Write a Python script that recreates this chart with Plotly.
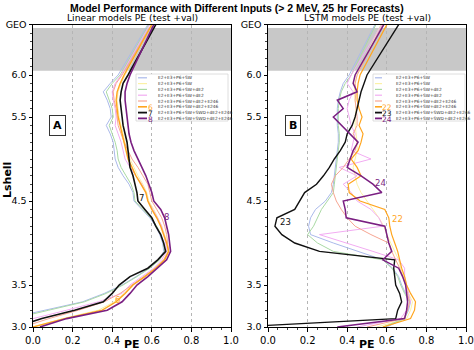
import plotly.graph_objects as go

# L-shell grid (last point is geosynchronous orbit, drawn at 6.6)
L_GRID = [3.0, 3.1, 3.2, 3.3, 3.4, 3.5, 3.6, 3.7, 3.8, 3.9,
          4.0, 4.1, 4.2, 4.3, 4.4, 4.5, 4.6, 4.7, 4.8, 4.9,
          5.0, 5.1, 5.2, 5.3, 5.4, 5.5, 5.6, 5.7, 5.8, 5.9,
          6.0, 6.6]

INPUT_SETS = [
    "E2+E3+P6+SW",
    "E2+E3+P6+SW",
    "E2+E3+P6+SW+dE2",
    "E2+E3+P6+SW+dE2",
    "E2+E3+P6+SW+dE2+E246",
    "E2+E3+P6+SW+dE2+E246",
    "E2+E3+P6+SW+SWD+dE2+E246",
    "E2+E3+P6+SW+SWD+dE2+E246",
]
LIN_IDS = ["", "", "", "", "", "6", "7", "8"]
LSTM_IDS = ["", "", "", "", "", "22", "23", "24"]

# ---- Linear models PE ----
lin_1 = [-0.35, -0.13, 0.06, 0.25, 0.36, 0.45, 0.52, 0.585, 0.635, 0.66,
         0.655, 0.64, 0.62, 0.59, 0.55, 0.51, 0.505, 0.485, 0.455, 0.43,
         0.415, 0.41, 0.405, 0.39, 0.37, 0.395, 0.39, 0.375, 0.355, 0.39,
         0.43, 0.58]
lin_2 = [0.0, 0.15, 0.33, 0.41, 0.46, 0.50, 0.56, 0.615, 0.66, 0.68,
         0.675, 0.665, 0.65, 0.63, 0.61, 0.585, 0.575, 0.555, 0.53, 0.51,
         0.49, 0.475, 0.465, 0.455, 0.445, 0.435, 0.43, 0.425, 0.43, 0.445,
         0.465, 0.60]
lin_3 = [-0.3, -0.1, 0.08, 0.26, 0.37, 0.455, 0.525, 0.59, 0.64, 0.665,
         0.66, 0.645, 0.625, 0.595, 0.555, 0.515, 0.51, 0.495, 0.47, 0.445,
         0.43, 0.425, 0.415, 0.40, 0.385, 0.405, 0.40, 0.385, 0.37, 0.40,
         0.44, 0.585]
lin_4 = [-0.12, 0.0, 0.17, 0.33, 0.45, 0.49, 0.55, 0.61, 0.65, 0.675,
         0.67, 0.66, 0.65, 0.63, 0.605, 0.58, 0.57, 0.55, 0.52, 0.49,
         0.465, 0.455, 0.445, 0.43, 0.415, 0.42, 0.415, 0.405, 0.40, 0.415,
         0.445, 0.59]
lin_5 = [-0.05, 0.08, 0.23, 0.36, 0.44, 0.50, 0.56, 0.62, 0.66, 0.685,
         0.68, 0.675, 0.665, 0.65, 0.625, 0.60, 0.59, 0.58, 0.555, 0.53,
         0.50, 0.48, 0.46, 0.445, 0.43, 0.425, 0.42, 0.41, 0.405, 0.42,
         0.45, 0.60]
lin_6 = [0.0, 0.16, 0.35, 0.42, 0.465, 0.505, 0.565, 0.62, 0.665, 0.685,
         0.675, 0.66, 0.645, 0.625, 0.60, 0.58, 0.57, 0.545, 0.52, 0.50,
         0.48, 0.47, 0.46, 0.45, 0.44, 0.43, 0.425, 0.42, 0.425, 0.44,
         0.46, 0.60]
lin_7 = [-0.09, 0.045, 0.21, 0.355, 0.40, 0.435, 0.49, 0.58, 0.63, 0.67,
         0.66, 0.645, 0.62, 0.60, 0.565, 0.53, 0.525, 0.515, 0.505, 0.49,
         0.485, 0.48, 0.475, 0.465, 0.455, 0.45, 0.445, 0.44, 0.445, 0.455,
         0.48, 0.62]
lin_8 = [0.035, 0.17, 0.375, 0.45, 0.49, 0.525, 0.58, 0.63, 0.675, 0.695,
         0.69, 0.685, 0.675, 0.665, 0.645, 0.61, 0.60, 0.585, 0.57, 0.55,
         0.53, 0.51, 0.495, 0.485, 0.48, 0.475, 0.47, 0.465, 0.465, 0.475,
         0.49, 0.61]

# ---- LSTM models PE ----
lstm_1 = [0.60, 0.69, 0.71, 0.72, 0.695, 0.675, 0.66, 0.63, 0.58, 0.45,
          0.33, 0.215, 0.205, 0.215, 0.24, 0.29, 0.32, 0.33, 0.335, 0.34,
          0.345, 0.35, 0.355, 0.355, 0.35, 0.35, 0.35, 0.355, 0.365, 0.38,
          0.41, 0.54]
lstm_2 = [0.55, 0.70, 0.72, 0.73, 0.71, 0.695, 0.685, 0.67, 0.66, 0.64,
          0.62, 0.60, 0.585, 0.56, 0.53, 0.50, 0.47, 0.45, 0.44, 0.43,
          0.44, 0.45, 0.45, 0.445, 0.44, 0.44, 0.445, 0.44, 0.435, 0.44,
          0.45, 0.57]
lstm_3 = [0.58, 0.69, 0.705, 0.715, 0.69, 0.67, 0.655, 0.625, 0.58, 0.33,
          0.25, 0.20, 0.23, 0.25, 0.27, 0.30, 0.33, 0.335, 0.34, 0.345,
          0.35, 0.355, 0.36, 0.36, 0.355, 0.355, 0.355, 0.36, 0.37, 0.39,
          0.42, 0.545]
lstm_4 = [0.45, 0.67, 0.70, 0.72, 0.71, 0.70, 0.69, 0.69, 0.66, 0.53,
          0.40, 0.26, 0.58, 0.56, 0.52, 0.45, 0.42, 0.38, 0.45, 0.36,
          0.52, 0.42, 0.43, 0.44, 0.42, 0.41, 0.40, 0.41, 0.43, 0.40,
          0.42, 0.575]
lstm_5 = [0.50, 0.685, 0.705, 0.715, 0.705, 0.695, 0.68, 0.665, 0.645, 0.625,
          0.61, 0.52, 0.44, 0.40, 0.37, 0.345, 0.33, 0.32, 0.34, 0.38,
          0.41, 0.44, 0.45, 0.43, 0.45, 0.45, 0.445, 0.44, 0.445, 0.44,
          0.45, 0.58]
lstm_6 = [0.58, 0.72, 0.74, 0.745, 0.72, 0.70, 0.69, 0.675, 0.665, 0.655,
          0.64, 0.625, 0.615, 0.61, 0.59, 0.465, 0.41, 0.405, 0.47, 0.45,
          0.42, 0.455, 0.47, 0.48, 0.46, 0.475, 0.46, 0.45, 0.45, 0.455,
          0.465, 0.60]
lstm_7 = [-0.16, 0.645, 0.655, 0.675, 0.665, 0.645, 0.64, 0.635, 0.64, 0.26,
          0.135, 0.07, 0.035, 0.045, 0.135, 0.16, 0.185, 0.245, 0.28, 0.31,
          0.335, 0.365, 0.39, 0.40, 0.425, 0.44, 0.45, 0.46, 0.47, 0.485,
          0.50, 0.66]
lstm_8 = [0.35, 0.69, 0.70, 0.705, 0.70, 0.695, 0.68, 0.66, 0.58, 0.625,
          0.61, 0.60, 0.59, 0.395, 0.39, 0.38, 0.575, 0.53, 0.47, 0.40,
          0.415, 0.43, 0.455, 0.415, 0.375, 0.33, 0.38, 0.35, 0.45, 0.43,
          0.44, 0.585]

LIN_SERIES = [lin_1, lin_2, lin_3, lin_4, lin_5, lin_6, lin_7, lin_8]
LSTM_SERIES = [lstm_1, lstm_2, lstm_3, lstm_4, lstm_5, lstm_6, lstm_7, lstm_8]

# in-plot model number labels: (text, PE, Lshell)
LIN_TAGS = [("7", 0.547, 4.54), ("8", 0.673, 4.31), ("6", 0.425, 3.32)]
LSTM_TAGS = [("23", 0.086, 4.25), ("22", 0.652, 4.29), ("24", 0.566, 4.71)]

X_TICKS = [0.0, 0.2, 0.4, 0.6, 0.8, 1.0]
Y_TICKS = [3.0, 3.5, 4.5, 5.5, 6.0, 6.6]
Y_TICKTEXT = ["3.0", "3.5", "4.5", "5.5", "6.0", "GEO"]

COLORS = ["#aab9ea", "#fbf1a6", "#a9d9a3", "#f2acf2",
          "#f6a592", "#ffa51e", "#111111", "#7a1f82"]
WIDTHS = [1.0, 1.0, 1.0, 1.0, 1.0, 1.4, 1.6, 1.6]
LSTM_WIDTHS = [1.0, 1.0, 1.0, 1.0, 1.0, 1.2, 1.4, 1.5]
TAG_COLOR = {"6": COLORS[5], "22": COLORS[5], "7": COLORS[6],
             "23": COLORS[6], "8": COLORS[7], "24": COLORS[7]}

W, H = 474, 350
FONT = "DejaVu Sans"
ROW0, ROW_STEP = 77.8, 5.8  # legend row positions (px from top)


def px(x):
    return x / W


def py(y):
    return 1 - y / H


fig = go.Figure()

panels = [
    ("x", "y", LIN_SERIES, WIDTHS, LIN_TAGS),
    ("x2", "y2", LSTM_SERIES, LSTM_WIDTHS, LSTM_TAGS),
]

for xa, ya, series, widths, tags in panels:
    for i, vals in enumerate(series):
        fig.add_trace(go.Scatter(
            x=vals, y=L_GRID, mode="lines", xaxis=xa, yaxis=ya,
            line=dict(color=COLORS[i], width=widths[i]),
            showlegend=False, hoverinfo="skip", cliponaxis=True,
        ))
    for text, xv, yv in tags:
        fig.add_annotation(x=xv, y=yv, xref=xa, yref=ya, text=text,
                           showarrow=False,
                           font=dict(family=FONT, size=8.5, color=TAG_COLOR[text]))
    # band between L=6 and GEO
    fig.add_shape(type="rect", xref=f"{xa} domain", yref=ya, x0=0, x1=1,
                  y0=6.05, y1=6.56, fillcolor="#c8c8c8", line=dict(width=0),
                  layer="below")

# Axes
x_domains = [(px(33), px(231)), (px(268), px(466))]
y_domain = (py(327), py(24.6))
for k, (xa, ya) in enumerate([("xaxis", "yaxis"), ("xaxis2", "yaxis2")]):
    fig.update_layout(**{
        xa: dict(domain=x_domains[k], range=[0, 1], tickvals=X_TICKS,
                 tickformat=".1f", showgrid=True, gridcolor="#b5b5b5",
                 griddash="dot", gridwidth=0.8, zeroline=False, automargin=False,
                 showline=True, linecolor="black", linewidth=1, mirror=True,
                 ticks="outside", ticklen=3.5, tickcolor="black",
                 minor=dict(dtick=0.05, ticks="outside", ticklen=2, tickcolor="#444"),
                 tickfont=dict(family=FONT, size=10, color="black"),
                 anchor="y" if k == 0 else "y2"),
        ya: dict(domain=y_domain, range=[3.0, 6.6], tickvals=Y_TICKS,
                 ticktext=Y_TICKTEXT, showgrid=False, zeroline=False, automargin=False,
                 showline=True, linecolor="black", linewidth=1, mirror=True,
                 ticks="outside", ticklen=3.5, tickcolor="black",
                 minor=dict(dtick=0.1, ticks="outside", ticklen=2, tickcolor="#444"),
                 tickfont=dict(family=FONT, size=9.5, color="black"),
                 anchor="x" if k == 0 else "x2"),
    })

# Compact legends drawn in each panel
legend_cfg = [
    dict(x0=136, x1=228, y0=74, y1=121, s0=138, s1=147, num=150, txt=157, ids=LIN_IDS),
    dict(x0=373, x1=465, y0=74, y1=121, s0=375, s1=382, num=387, txt=394.5, ids=LSTM_IDS),
]
for cfg in legend_cfg:
    fig.add_shape(type="rect", xref="paper", yref="paper",
                  x0=px(cfg["x0"]), x1=px(cfg["x1"]), y0=py(cfg["y1"]), y1=py(cfg["y0"]),
                  fillcolor="white", line=dict(color="#d6d6d6", width=0.8), layer="above")
    for i, label in enumerate(INPUT_SETS):
        yy = ROW0 + i * ROW_STEP
        fig.add_shape(type="line", xref="paper", yref="paper",
                      x0=px(cfg["s0"]), x1=px(cfg["s1"]), y0=py(yy), y1=py(yy),
                      line=dict(color=COLORS[i], width=WIDTHS[i] + 0.2), layer="above")
        fig.add_annotation(xref="paper", yref="paper", x=px(cfg["txt"]), y=py(yy),
                           text=label, showarrow=False, xanchor="left", yanchor="middle",
                           borderpad=0,
                           font=dict(family=FONT, size=4.3, color="#333"))
    # model numbers stacked in one text block, one per row
    rows = [i for i, s in enumerate(cfg["ids"]) if s]
    base = ROW_STEP / 1.3
    block = "<br>".join(
        f"<span style='font-size:7.5px;fill:{COLORS[i]}'>{cfg['ids'][i]}</span>" for i in rows)
    mid = ROW0 + ROW_STEP * (rows[0] + rows[-1]) / 2
    fig.add_annotation(xref="paper", yref="paper", x=px(cfg["num"]), y=py(mid + 0.6),
                       text=block, showarrow=False, xanchor="center", yanchor="middle",
                       borderpad=0, align="center",
                       font=dict(family=FONT, size=base, color="black"))

# Panel letters
for letter, cx in [("A", 57), ("B", 293)]:
    fig.add_annotation(xref="paper", yref="paper", x=px(cx), y=py(125.5), text=f"<b>{letter}</b>",
                       showarrow=False, xanchor="center", yanchor="middle",
                       font=dict(family=FONT, size=11, color="black"),
                       bordercolor="#333", borderwidth=1, borderpad=3, bgcolor="white")

# Titles and axis labels
fig.add_annotation(xref="paper", yref="paper", x=0.5, y=py(8),
                   text="<b>Model Performance with Different Inputs (&gt; 2 MeV, 25 hr Forecasts)</b>",
                   showarrow=False, xanchor="center", yanchor="middle",
                   font=dict(family="Liberation Sans", size=10.5, color="black"))
for txt, cx in [("Linear models PE (test +val)", 132), ("LSTM models PE (test +val)", 367)]:
    fig.add_annotation(xref="paper", yref="paper", x=px(cx), y=py(18), text=txt,
                       showarrow=False, xanchor="center", yanchor="middle",
                       font=dict(family=FONT, size=9.2, color="black"))
for cx in [132, 367]:
    fig.add_annotation(xref="paper", yref="paper", x=px(cx), y=py(344), text="<b>PE</b>",
                       showarrow=False, xanchor="center", yanchor="middle",
                       font=dict(family=FONT, size=11, color="black"))
fig.add_annotation(xref="paper", yref="paper", x=px(8), y=py(180), text="<b>Lshell</b>",
                   showarrow=False, textangle=-90, xanchor="center", yanchor="middle",
                   font=dict(family=FONT, size=11, color="black"))

fig.update_layout(
    width=W, height=H, margin=dict(l=0, r=0, t=0, b=0, pad=0),
    paper_bgcolor="white", plot_bgcolor="white", showlegend=False,
)

fig.write_html("out.html")
